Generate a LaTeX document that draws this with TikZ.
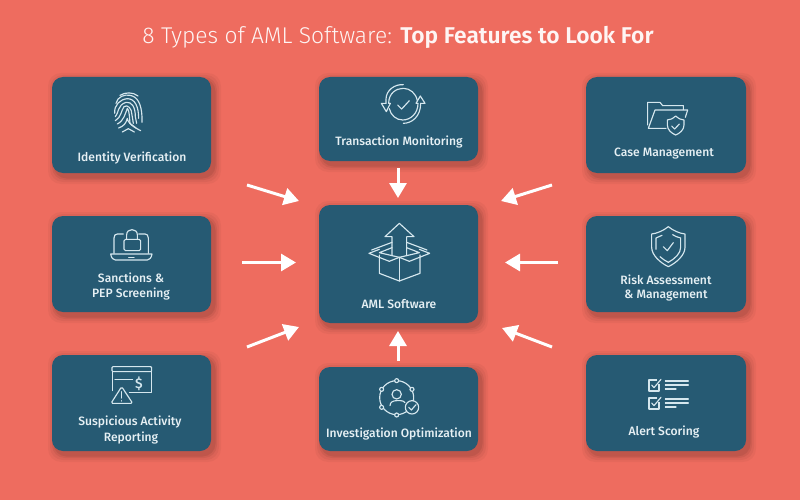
\documentclass[tikz,border=0pt]{standalone}
\usepackage{fontspec}
\setmainfont{Fira Sans}[BoldFont={Fira Sans SemiBold}]
\newfontfamily\titlefont{Fira Sans Light}[BoldFont={Fira Sans SemiBold}]
\newfontfamily\cardfont{Fira Sans Medium}
\usetikzlibrary{arrows.meta,calc}
\definecolor{bgred}{HTML}{EE6C5F}
\definecolor{cardblue}{HTML}{265A73}
\definecolor{inkpale}{HTML}{E6F0F4}
\definecolor{iconpale}{HTML}{D5E7EE}
\tikzset{
  cardbox/.style={fill=cardblue,rounded corners=11pt,inner sep=0pt,draw=none},
  cardtext/.style={text=inkpale,font=\cardfont\fontsize{12.1}{14}\selectfont,inner sep=0pt,align=center},
  flow/.style={draw=white,line width=3pt,-{Triangle[length=15pt,width=17pt]}},
  ico/.style={draw=iconpale,line width=1.15pt,line cap=round,line join=round,fill=none},
}
\newcommand{\cardat}[5]{%
  \pgfmathsetmacro{\cw}{#4-#2}\pgfmathsetmacro{\ch}{#5-#3}%
  \pgfmathsetmacro{\cx}{(#4+#2)/2}\pgfmathsetmacro{\cy}{(#5+#3)/2}%
  \foreach \g/\o in {7/.035,5/.045,3/.06,1.5/.07}{
    \fill[black,opacity=\o,rounded corners=13pt] (#2+3-\g,#3+3-\g) rectangle (#4+3+\g,#5+4+\g);
  }
  \node[cardbox,minimum width=\cw pt,minimum height=\ch pt] (#1) at (\cx,\cy) {};
}
\begin{document}
\begin{tikzpicture}[x=1pt,y=-1pt]
\useasboundingbox (0,0) rectangle (800,500);
\fill[bgred] (0,0) rectangle (800,500);
\node[text=white!93!bgred,font=\titlefont\fontsize{22.8}{26}\selectfont,inner sep=0pt] (title) at (398,37) {8 Types of AML Software: \textbf{Top Features to Look For}};

\cardat{identity}{52}{77}{211}{173}
\cardat{transaction}{319}{77}{478}{161}
\cardat{casemgmt}{586}{77}{746}{173}
\cardat{sanctions}{52}{216}{211}{312}
\cardat{aml}{319}{205}{478}{323}
\cardat{risk}{586}{216}{746}{312}
\cardat{suspicious}{52}{355}{211}{451}
\cardat{investigation}{319}{367}{478}{451}
\cardat{alert}{586}{355}{746}{451}

\node[cardtext] (t1) at (132,157.5) {Identity Verification};
\node[cardtext] (t2) at (399,141.5) {Transaction Monitoring};
\node[cardtext] (t3) at (664,153.5) {Case Management};
\node[cardtext] (t4a) at (131,278) {Sanctions \&};
\node[cardtext] (t4b) at (131,294) {PEP Screening};
\node[cardtext] (t5) at (399,304) {AML Software};
\node[cardtext] (t6a) at (666,279.5) {Risk Assessment};
\node[cardtext] (t6b) at (666,295.5) {\& Management};
\node[cardtext] (t7a) at (130,421.5) {Suspicious Activity};
\node[cardtext] (t7b) at (131,437.5) {Reporting};
\node[cardtext] (t8) at (399,434) {Investigation Optimization};
\node[cardtext] (t9) at (664,432) {Alert Scoring};

% arrows
\coordinate (a1s) at (247,185); \coordinate (a1e) at (299,201);
\coordinate (a2s) at (398,168); \coordinate (a2e) at (398,198);
\coordinate (a3s) at (552,185); \coordinate (a3e) at (501,201);
\coordinate (a4s) at (242,262.5); \coordinate (a4e) at (296,262.5);
\coordinate (a5s) at (558,262.5); \coordinate (a5e) at (505,262.5);
\coordinate (a6s) at (247,347); \coordinate (a6e) at (299,327);
\coordinate (a7s) at (398,361); \coordinate (a7e) at (398,331);
\coordinate (a8s) at (552,347); \coordinate (a8e) at (502,328);
\foreach \n in {1,...,8}{\draw[flow] (a\n s) -- (a\n e);}

% fingerprint
\begin{scope}[shift={(40,60)},scale=1/3]
\draw[ico] (240,106) .. controls (255,96) and (280,96) .. (294,108);
\draw[ico] (228,130) .. controls (232,110) and (255,102) .. (270,106) .. controls (292,110) and (304,130) .. (306,170) -- (306,187);
\draw[ico] (224,160) .. controls (222,135) and (240,118) .. (262,116) .. controls (285,116) and (296,140) .. (296,175);
\draw[ico] (226,170) .. controls (236,160) and (232,135) .. (258,127) .. controls (275,125) and (286,140) .. (286,170) -- (290,190);
\draw[ico] (226,182) .. controls (244,172) and (244,150) .. (252,140) .. controls (262,132) and (276,145) .. (276,165) -- (280,190);
\draw[ico] (232,192) .. controls (252,182) and (256,160) .. (262,145) .. controls (268,150) and (268,170) .. (270,190) -- (288,204);
\draw[ico] (236,204) .. controls (252,198) and (258,190) .. (262,175) .. controls (264,185) and (268,195) .. (302,212);
\draw[ico] (247,216) -- (265,206) -- (283,216);
\end{scope}

% transaction
\begin{scope}[shift={(310,70)},scale=1/3]
\draw[ico] (280,44) .. controls (255,42) and (228,60) .. (228,88) -- (228,100);
\draw[ico] (228,100) -- (214,100) -- (229,125) -- (241,100) -- (236,100) .. controls (236,70) and (258,55) .. (280,55) .. controls (300,55) and (318,70) .. (322,92);
\draw[ico] (280,160) .. controls (305,160) and (332,140) .. (332,100);
\draw[ico] (332,100) -- (345,100) -- (331,78) -- (318,100) -- (324,100) .. controls (324,130) and (302,150) .. (278,150) .. controls (258,150) and (242,135) .. (238,116);
\draw[ico] (263,105) -- (275,117) -- (298,92);
\end{scope}

% folder
\begin{scope}[shift={(580,70)},scale=1/3]
\draw[ico] (203,165) -- (203,97) -- (240,97) -- (248,107) -- (310,107) -- (310,119);
\draw[ico] (258,175) -- (205,175) -- (225,120) -- (323,120) -- (316,142);
\draw[ico] (287,138) .. controls (278,146) and (270,150) .. (262,150) -- (262,165) .. controls (262,180) and (275,190) .. (287,195) .. controls (299,190) and (312,180) .. (312,165) -- (312,150) .. controls (304,150) and (296,146) .. (287,138) -- cycle;
\draw[ico] (275,168) -- (284,177) -- (298,162);
\end{scope}

% laptop
\begin{scope}[shift={(40,210)},scale=1/3]
\draw[ico] (222,130) -- (222,84) .. controls (222,76) and (226,72) .. (232,72) -- (250,72);
\draw[ico] (296,72) -- (315,72) .. controls (321,72) and (325,76) .. (325,84) -- (325,130);
\draw[ico] (212,132) -- (336,132) .. controls (334,144) and (328,150) .. (322,150) -- (226,150) .. controls (220,150) and (214,144) .. (212,132) -- cycle;
\draw[ico] (266,142) -- (282,142);
\draw[ico,rounded corners=1.5pt] (252,88) rectangle (302,122);
\draw[ico] (260,88) -- (260,74) .. controls (260,54) and (292,54) .. (292,74) -- (292,88);
\end{scope}

% box
\begin{scope}[shift={(310,200)},scale=1/3]
\draw[ico] (246,165) -- (246,110) -- (225,110) -- (268,70) -- (312,110) -- (290,110) -- (290,165);
\draw[ico] (208,165) -- (208,220) -- (268,243) -- (330,220) -- (330,165);
\draw[ico] (268,172) -- (268,243);
\draw[ico] (268,172) -- (238,184) -- (177,160) -- (208,148);
\draw[ico] (268,172) -- (298,184) -- (359,160) -- (328,148);
\draw[ico] (185,150) -- (246,127);
\draw[ico] (351,150) -- (290,127);
\draw[ico] (246,143) -- (208,158) -- (268,172) -- (328,158) -- (290,143);
\end{scope}

% shield
\begin{scope}[shift={(580,210)},scale=1/3]
\draw[ico] (265,50) .. controls (250,62) and (232,70) .. (215,72) -- (215,112) .. controls (215,135) and (240,158) .. (265,170) .. controls (290,158) and (315,135) .. (315,112) -- (315,72) .. controls (298,70) and (280,62) .. (265,50) -- cycle;
\draw[ico] (228,118) -- (228,84) .. controls (235,82) and (240,80) .. (246,76);
\draw[ico] (240,140) .. controls (248,148) and (256,152) .. (265,157) .. controls (285,146) and (302,130) .. (302,112) -- (302,84) .. controls (292,82) and (284,78) .. (278,74);
\draw[ico] (250,110) -- (262,122) -- (280,98);
\end{scope}

% suspicious report
\begin{scope}[shift={(40,350)},scale=1/3]
\draw[ico,rounded corners=1pt] (216,50) rectangle (335,65);
\draw[ico] (218,65) -- (218,122);
\draw[ico] (335,65) -- (335,128) -- (268,128);
\draw[ico] (225,89) -- (278,89);
\draw[ico,rounded corners=1.5pt] (245,110) -- (278,160) -- (213,160) -- cycle;
\draw[ico] (245,125) -- (245,144);
\draw[ico] (245,152) -- (245,153);
\node[text=iconpale,font=\cardfont\fontsize{14}{14}\selectfont,inner sep=0pt] (dollar) at (297,102) {\$};
\end{scope}

% investigation
\begin{scope}[shift={(310,360)},scale=1/3]
\draw[ico] (260,113) circle (51);
\foreach \p in {(260,62),(215,88),(306,88),(215,142),(260,165)}{
  \draw[ico,fill=cardblue] \p circle (6);
}
\draw[ico,fill=cardblue] (306,142) circle (20);
\draw[ico] (296,142) -- (304,150) -- (318,134);
\draw[ico] (260,103) circle (14);
\draw[ico] (240,137) .. controls (240,126) and (250,122) .. (260,122) -- (272,122) .. controls (278,122) and (282,124) .. (285,128);
\end{scope}

% checklist
\begin{scope}[shift={(580,350)},scale=1/3]
\foreach \d in {0,54}{
  \draw[ico] (230,90+\d) -- (207,90+\d) -- (207,123+\d) -- (237,123+\d) -- (237,103+\d);
  \draw[ico] (215,105+\d) -- (222,113+\d) -- (243,88+\d);
  \draw[ico] (256,93+\d) -- (325,93+\d);
  \draw[ico] (256,105+\d) -- (325,105+\d);
  \draw[ico] (256,117+\d) -- (288,117+\d);
}
\end{scope}
\end{tikzpicture}
\end{document}
